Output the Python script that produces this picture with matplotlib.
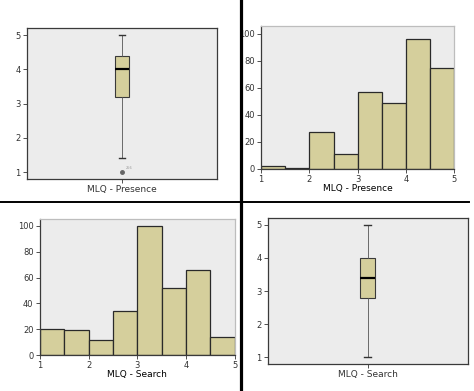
import matplotlib
matplotlib.use("Agg")
import matplotlib.pyplot as plt
from matplotlib.lines import Line2D

# histogram bins (shared) and counts
bin_edges = [1.0, 1.5, 2.0, 2.5, 3.0, 3.5, 4.0, 4.5, 5.0]
presence_counts = [2, 1, 27, 11, 57, 49, 96, 75]
search_counts = [20, 19, 12, 34, 100, 52, 66, 14]

# box plot summaries: whislo, q1, median, q3, whishi
presence_box = [1.4, 3.2, 4.0, 4.4, 5.0]
presence_outliers = [1.0]
presence_outlier_label = "256"
search_box = [1.0, 2.8, 3.4, 4.0, 5.0]

fill = "#d5cf9c"
bg = "#ececec"
edge = "#3a3a3a"
tick_fs = 6

fig = plt.figure(figsize=(4.74, 3.91), dpi=100)


def style_axes(ax, all_dark=True):
    ax.set_facecolor(bg)
    for s in ax.spines.values():
        s.set_color(edge if all_dark else "#bdbdbd")
        s.set_linewidth(0.9)
    ax.spines["left"].set_color(edge)
    ax.spines["bottom"].set_color(edge)
    ax.tick_params(labelsize=tick_fs, length=3, width=0.6, pad=1.5,
                   colors="#333333")


def boxplot(ax, vals, outliers, label):
    stats = [dict(whislo=vals[0], q1=vals[1], med=vals[2], q3=vals[3],
                  whishi=vals[4], fliers=outliers, label=label)]
    ax.bxp(stats, positions=[1], widths=0.074, capwidths=0.034,
           patch_artist=True,
           boxprops=dict(facecolor=fill, edgecolor=edge, linewidth=0.8),
           medianprops=dict(color="black", linewidth=1.6),
           whiskerprops=dict(color="#555555", linewidth=0.6),
           capprops=dict(color="#333333", linewidth=1.0),
           flierprops=dict(marker="o", markersize=2.5, markerfacecolor="#666666",
                           markeredgecolor="#666666"))
    ax.set_xlim(0.5, 1.5)
    ax.set_ylim(0.8, 5.2)
    ax.set_yticks([1, 2, 3, 4, 5])
    ax.set_xticks([1])
    ax.set_xticklabels([label], fontsize=6.5)


def histogram(ax, counts, label, top):
    widths = [b - a for a, b in zip(bin_edges[:-1], bin_edges[1:])]
    ax.bar(bin_edges[:-1], counts, width=widths, align="edge", color=fill,
           edgecolor="#2a2a2a", linewidth=0.9)
    ax.set_xlim(1, 5)
    ax.set_ylim(0, top)
    ax.set_xticks([1, 2, 3, 4, 5])
    ax.set_yticks([0, 20, 40, 60, 80, 100])
    ax.set_xlabel(label, fontsize=6.5, labelpad=0)


# top-left: presence box plot
ax1 = fig.add_axes([0.057, 0.542, 0.401, 0.386])
style_axes(ax1)
boxplot(ax1, presence_box, presence_outliers, "MLQ - Presence")
ax1.annotate(presence_outlier_label, (1, presence_outliers[0]),
             xytext=(3, 2), textcoords="offset points", fontsize=2.5,
             color="#999999")

# top-right: presence histogram
ax2 = fig.add_axes([0.551, 0.568, 0.407, 0.366])
style_axes(ax2, all_dark=False)
histogram(ax2, presence_counts, "MLQ - Presence", 106)

# bottom-left: search histogram
ax3 = fig.add_axes([0.084, 0.092, 0.411, 0.348])
style_axes(ax3, all_dark=False)
histogram(ax3, search_counts, "MLQ - Search", 105.4)

# bottom-right: search box plot
ax4 = fig.add_axes([0.565, 0.069, 0.422, 0.373])
style_axes(ax4)
boxplot(ax4, search_box, [], "MLQ - Search")

# black divider lines between the four panels
fig.add_artist(Line2D([0.508, 0.508], [0, 1], color="black", linewidth=2.3))
fig.add_artist(Line2D([0, 0.99], [0.483, 0.483], color="black", linewidth=1.4))

fig.savefig("out.png", dpi=100)
